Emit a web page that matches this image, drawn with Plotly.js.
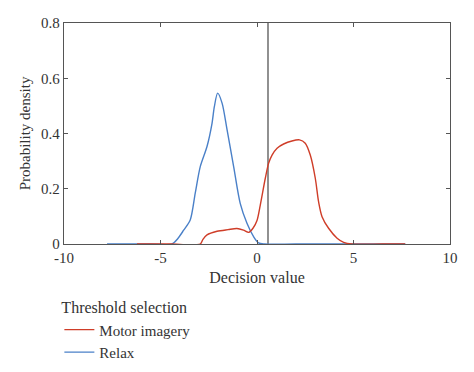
<!DOCTYPE html>
<html>
<head>
<meta charset="utf-8">
<script src="https://cdn.plot.ly/plotly-3.0.1.min.js"></script>
<style>html,body{margin:0;padding:0;background:#fff;}#chart{width:474px;height:372px;}</style>
</head>
<body>
<div id="chart"></div>
<script>
// Relax (blue) density curve
const relaxX = [-7.77, -5.5, -4.4, -4.1, -3.8, -3.46, -3.2, -2.94, -2.59, -2.33, -2.21, -2.04, -1.81, -1.55, -1.21, -0.87, -0.52, -0.17, 0.08, 0.4, 2.0, 5.0, 7.68];
const relaxY = [0, 0, 0, 0.02, 0.05, 0.087, 0.184, 0.28, 0.353, 0.437, 0.497, 0.546, 0.51, 0.413, 0.28, 0.147, 0.075, 0.026, 0.004, 0, 0, 0, 0];
// Motor imagery (red) density curve
const motorX = [-6.22, -4.5, -2.94, -2.8, -2.59, -2.07, -1.5, -1.04, -0.7, -0.43, -0.2, 0.0, 0.17, 0.43, 0.6, 0.78, 1.04, 1.38, 1.81, 2.2, 2.5, 2.76, 3.02, 3.19, 3.37, 3.71, 4.15, 4.49, 4.9, 6.5, 7.68];
const motorY = [0, 0, 0, 0.017, 0.033, 0.046, 0.052, 0.056, 0.05, 0.042, 0.058, 0.085, 0.141, 0.238, 0.292, 0.322, 0.347, 0.362, 0.373, 0.377, 0.365, 0.322, 0.238, 0.153, 0.099, 0.057, 0.021, 0.006, 0, 0, 0];
// Threshold line
const thresholdX = [0.57, 0.57];
const thresholdY = [0, 0.8];
const xTicks = [-10, -5, 0, 5, 10];
const yTicks = [0, 0.2, 0.4, 0.6, 0.8];

const font = "Liberation Serif, Times New Roman, serif";
const traces = [
  {x: thresholdX, y: thresholdY, mode: 'lines', line: {color: '#555555', width: 1.3}, showlegend: false, hoverinfo: 'skip'},
  {x: relaxX, y: relaxY, mode: 'lines', name: 'Relax', line: {color: '#4a80c8', width: 1.4, shape: 'spline', smoothing: 0.8}},
  {x: motorX, y: motorY, mode: 'lines', name: 'Motor imagery', line: {color: '#cf3d28', width: 1.4, shape: 'spline', smoothing: 0.8}}
];
const layout = {
  width: 474, height: 372,
  margin: {l: 64, r: 24, t: 23, b: 128, autoexpand: false},
  paper_bgcolor: '#fff', plot_bgcolor: '#fff',
  font: {family: font, size: 15, color: '#333'},
  xaxis: {range: [-10, 10], tickvals: xTicks, ticktext: xTicks.map(String), ticks: 'inside', ticklen: 4, tickcolor: '#555',
          showline: true, linecolor: '#555', linewidth: 1.3, mirror: 'ticks', showgrid: false, zeroline: false,
          title: {text: 'Decision value', font: {family: font, size: 16, color: '#333'}, standoff: 6}, tickfont: {size: 15}},
  yaxis: {range: [0, 0.8], tickvals: yTicks, ticktext: ['0', '0.2', '0.4', '0.6', '0.8'], ticks: 'inside', ticklen: 4, tickcolor: '#555',
          showline: true, linecolor: '#555', linewidth: 1.3, mirror: 'ticks', showgrid: false, zeroline: false,
          title: {text: 'Probability density', font: {family: font, size: 15, color: '#333'}, standoff: 6}, tickfont: {size: 15}},
  legend: {x: -0.012, xanchor: 'left', y: -0.22, yanchor: 'top', traceorder: 'reversed',
           title: {text: 'Threshold selection', font: {family: font, size: 16, color: '#333'}},
           font: {family: font, size: 15, color: '#333'}, bgcolor: 'rgba(0,0,0,0)', itemwidth: 30, tracegroupgap: 0},
  showlegend: true
};
Plotly.newPlot('chart', traces, layout, {displayModeBar: false, staticPlot: true});
</script>
</body>
</html>
